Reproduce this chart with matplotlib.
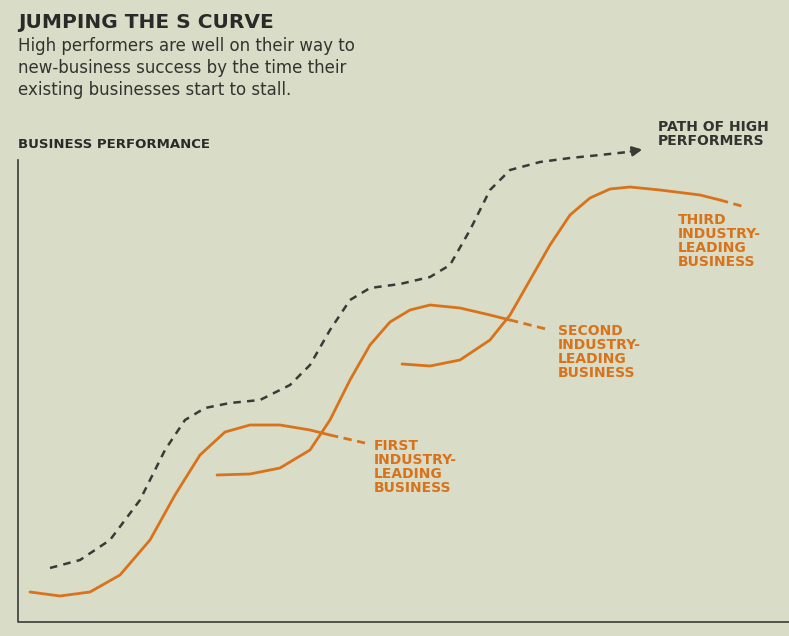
import matplotlib
matplotlib.use("Agg")
import matplotlib.pyplot as plt

# Curves (x, y in picture units, y downward)
first_x = [30, 60, 90, 120, 150, 175, 200, 225, 250, 280, 310, 330]
first_y = [592, 596, 592, 575, 540, 495, 455, 432, 425, 425, 430, 435]
first_tail_x = [330, 365]
first_tail_y = [435, 443]
second_x = [217, 250, 280, 310, 330, 350, 370, 390, 410, 430, 460, 490, 510]
second_y = [475, 474, 468, 450, 420, 380, 345, 322, 310, 305, 308, 315, 320]
second_tail_x = [510, 550]
second_tail_y = [320, 330]
third_x = [402, 430, 460, 490, 510, 530, 550, 570, 590, 610, 630, 660, 700, 720]
third_y = [364, 366, 360, 340, 315, 280, 245, 215, 198, 189, 187, 190, 195, 200]
third_tail_x = [720, 745]
third_tail_y = [200, 207]
path_x = [50, 80, 110, 140, 165, 185, 205, 230, 260, 290, 310, 330, 350, 370, 400,
          430, 450, 470, 490, 510, 540, 570, 600, 628]
path_y = [568, 560, 540, 500, 450, 420, 408, 403, 400, 385, 365, 330, 300, 288, 284,
          277, 265, 230, 190, 170, 162, 158, 155, 152]

orange = "#d8731c"
dark = "#3a3a36"
bg = "#d9dcc6"

fig = plt.figure(figsize=(7.89, 6.36), dpi=100, facecolor=bg)
ax = fig.add_axes([0, 0, 1, 1])
ax.set_facecolor(bg)
ax.set_xlim(0, 789)
ax.set_ylim(636, 0)
ax.axis("off")

ax.plot([18, 18, 789], [160, 622, 622], color=dark, lw=1.2)

kw = dict(solid_joinstyle="round", solid_capstyle="round")
ax.plot(first_x, first_y, color=orange, lw=2, **kw)
ax.plot(first_tail_x, first_tail_y, color=orange, lw=2, ls=(0, (3, 2)))
ax.plot(second_x, second_y, color=orange, lw=2, **kw)
ax.plot(second_tail_x, second_tail_y, color=orange, lw=2, ls=(0, (3, 2)))
ax.plot(third_x, third_y, color=orange, lw=2, **kw)
ax.plot(third_tail_x, third_tail_y, color=orange, lw=2, ls=(0, (3, 2)))
ax.plot(path_x, path_y, color=dark, lw=1.8, ls=(0, (3, 2.5)))
ax.annotate("", xy=(645, 149), xytext=(path_x[-1], path_y[-1]),
            arrowprops=dict(arrowstyle="-|>", color=dark, lw=1.8, mutation_scale=14))

ax.text(18, 22, "JUMPING THE S CURVE", fontsize=14.5, fontweight="bold", color="#2a2a28",
        va="center")
ax.text(18, 68, "High performers are well on their way to\nnew-business success by the time their\nexisting businesses start to stall.",
        fontsize=12, color="#333330", va="center", linespacing=1.3)
ax.text(18, 145, "BUSINESS PERFORMANCE", fontsize=9.5, fontweight="bold", color="#2a2a28", va="center")

lab = dict(fontsize=10, fontweight="bold", va="top", linespacing=1.0)
ax.text(658, 120, "PATH OF HIGH\nPERFORMERS", color="#333330", **lab)
ax.text(678, 213, "THIRD\nINDUSTRY-\nLEADING\nBUSINESS", color=orange, **lab)
ax.text(558, 324, "SECOND\nINDUSTRY-\nLEADING\nBUSINESS", color=orange, **lab)
ax.text(374, 439, "FIRST\nINDUSTRY-\nLEADING\nBUSINESS", color=orange, **lab)

fig.savefig("out.png", dpi=100, facecolor=bg)
